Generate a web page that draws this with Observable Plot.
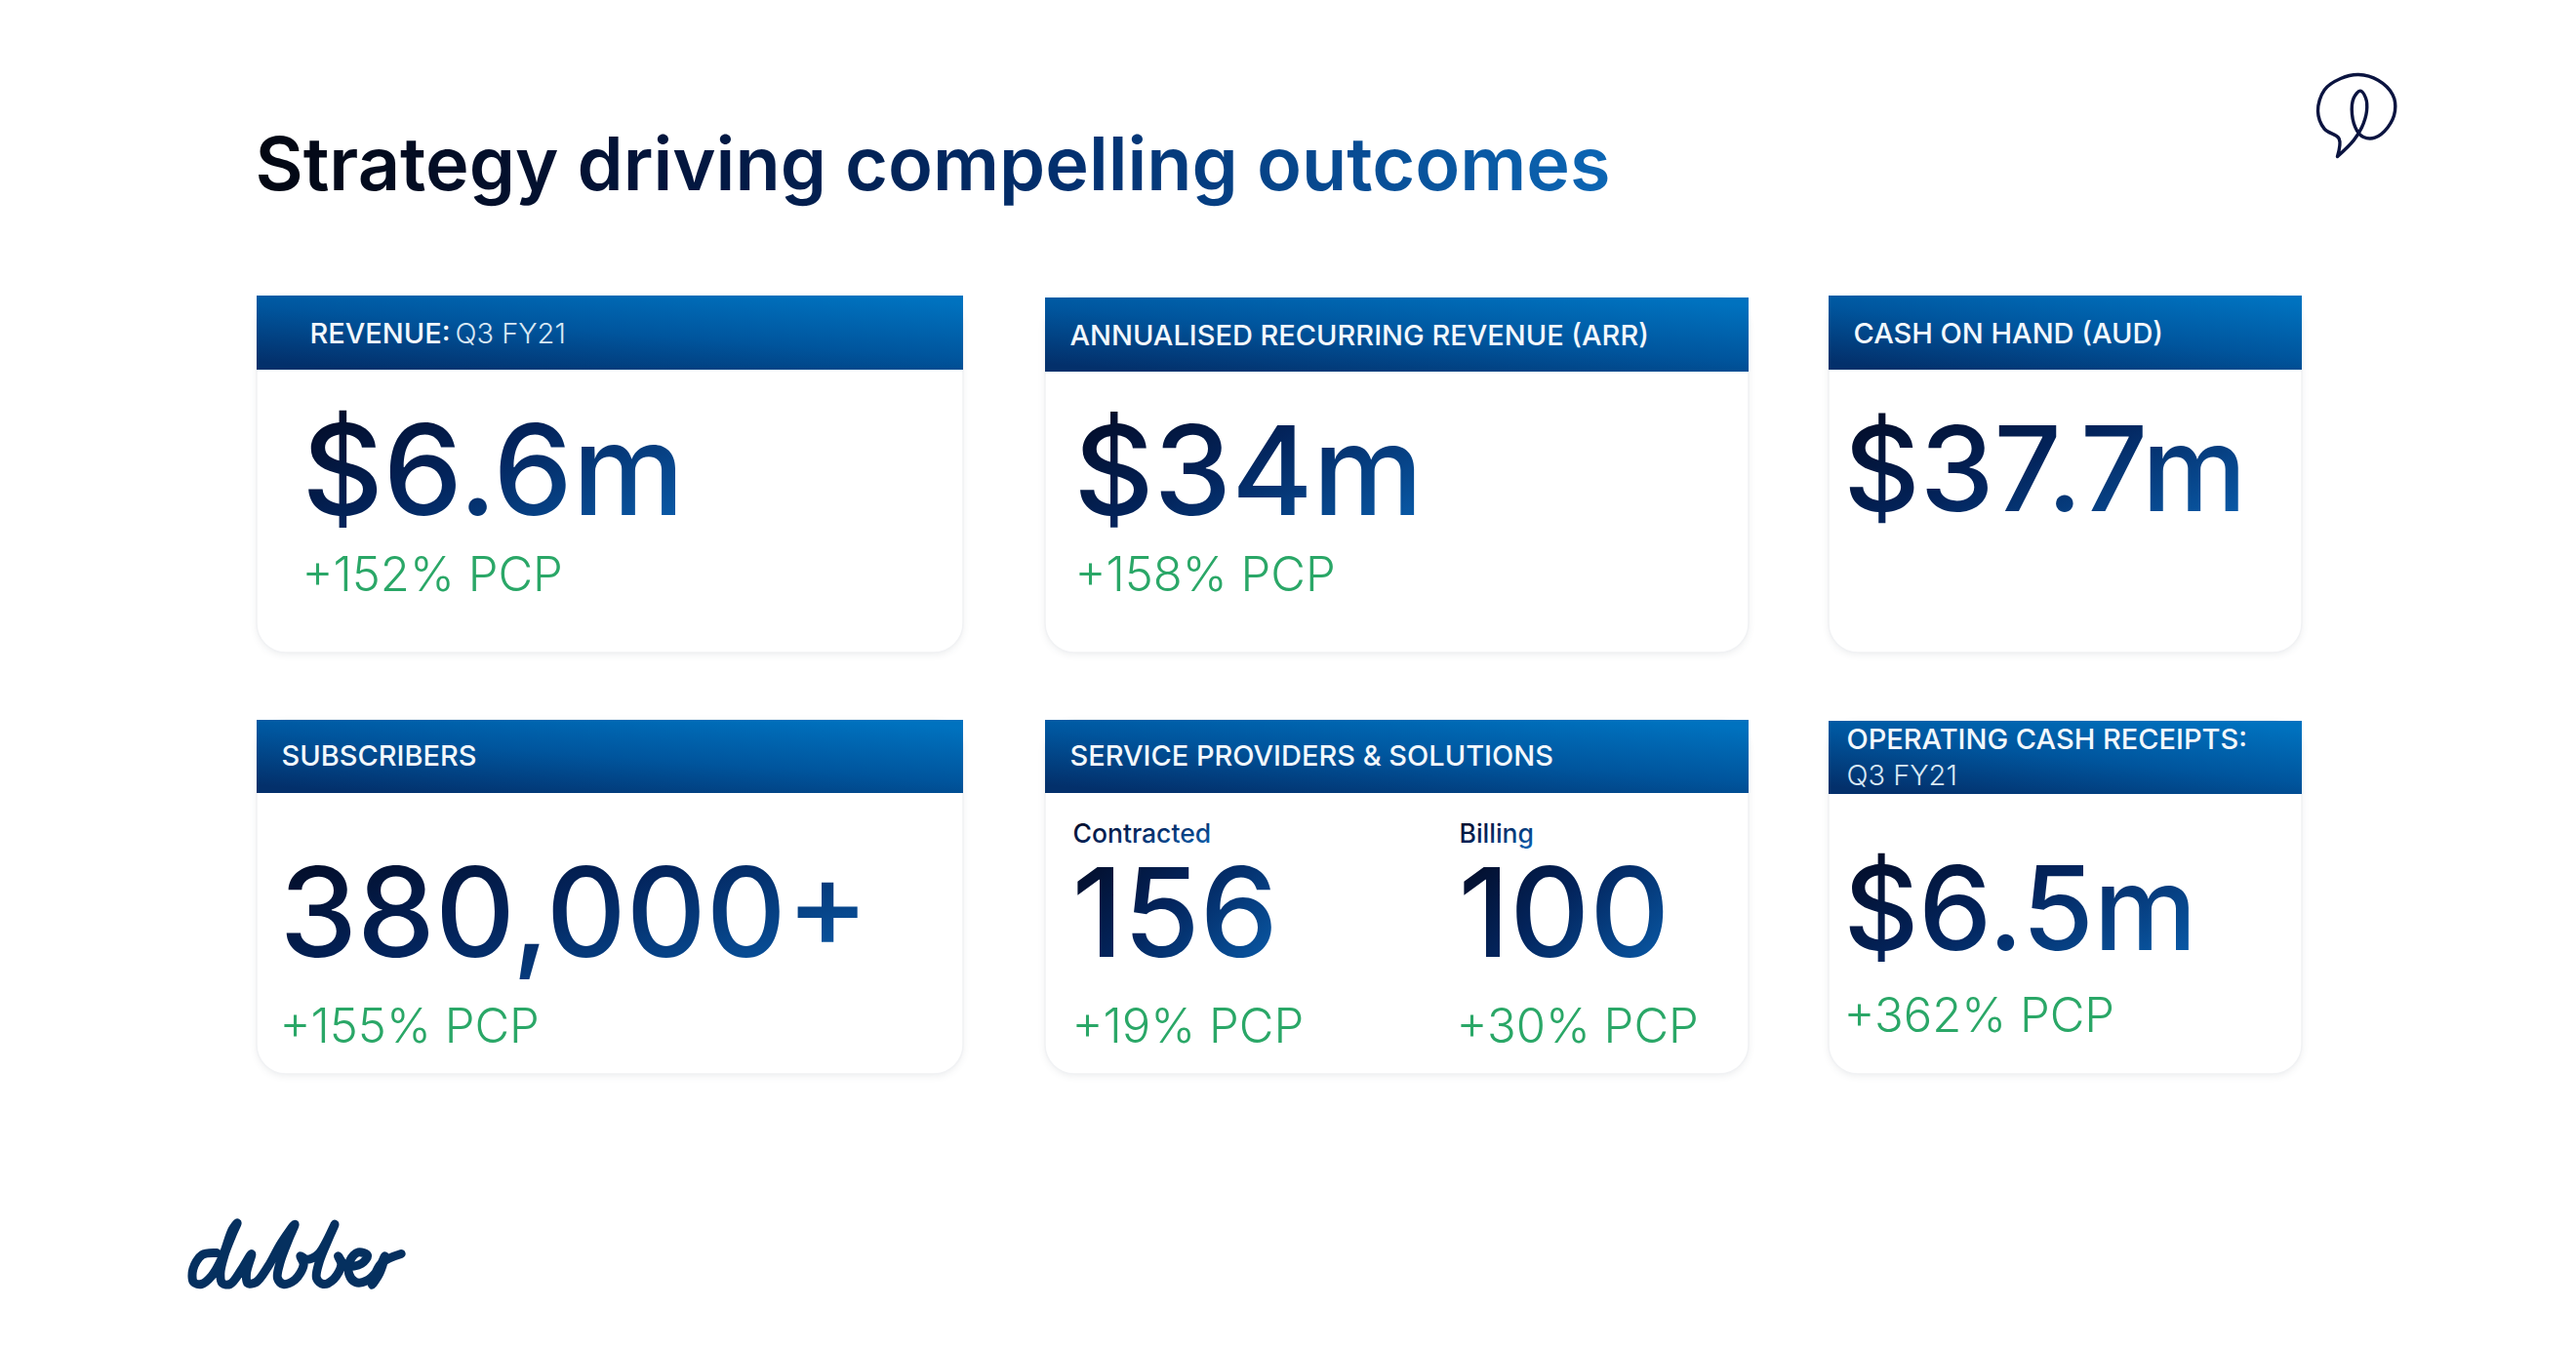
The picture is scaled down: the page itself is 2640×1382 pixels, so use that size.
<!DOCTYPE html>
<html><head><meta charset="utf-8">
<script src="https://cdn.jsdelivr.net/npm/d3@7"></script>
<script src="https://cdn.jsdelivr.net/npm/@observablehq/plot@0.6"></script>
<style>
html,body{margin:0;padding:0;background:#fff}
svg{display:block}
g[aria-label="title"] text{letter-spacing:-.7px}
g[aria-label="big"] text{letter-spacing:-5px}
g[aria-label="change"] text{letter-spacing:-.5px}
g[aria-label="sub"] text{letter-spacing:-.1px}
</style></head><body><div id="chart"></div>
<script>
// ---- chart content ----
const titleText = "Strategy driving compelling outcomes";
const headers = ["REVENUE:", "ANNUALISED RECURRING REVENUE (ARR)", "CASH ON HAND (AUD)", "SUBSCRIBERS", "SERVICE PROVIDERS & SOLUTIONS", "OPERATING CASH RECEIPTS:"];
const headerNotes = ["Q3 FY21", "Q3 FY21"];
const bigValues = ["$6.6m", "$34m", "$37.7m", "380,000+", "156", "100", "$6.5m"];
const changes = ["+152% PCP", "+158% PCP", "+155% PCP", "+19% PCP", "+30% PCP", "+362% PCP"];
const subLabels = ["Contracted", "Billing"];

// ---- layout (separate from the content) ----
const cardX1 = [263, 1071, 1874, 263, 1071, 1874];
const cardX2 = [987, 1792, 2359, 987, 1792, 2359];
const cardTop = [303, 305, 303, 738, 738, 739];
const headBot = [379, 381, 379, 813, 813, 814];
const cardBot = [669, 669, 669, 1101, 1101, 1101];
const headerAt = [[317, 351], [1096, 353], [1899, 351], [288, 784], [1096, 784], [1892, 767]];
const noteAt = [[466, 351], [1892, 804]];
const bigAt = [[309, 527], [1100, 527], [1889, 523], [286, 980], [1098, 980], [1494, 980], [1889, 973]];
const bigSize = [129, 127, 121, 127, 127, 127, 119];
const changeAt = [[309, 605], [1101, 605], [286, 1068], [1098, 1068], [1492, 1068], [1889, 1057]];
const subAt = [[1099, 863], [1495, 863]];

// bubble icon and wordmark, traced in crop space
const iconTrace = [[165,330],[170,275],[125,245],[105,190],[125,125],[175,90],[230,78],[290,95],[335,140],[342,190],[320,240],[280,272],[245,270],[225,250],[210,200],[215,150],[235,128],[252,150],[255,190],[240,240],[215,280],[165,330]];
const wordTrace = [
 [[155,162],[110,168],[82,212],[84,252],[108,258],[140,232],[170,180],[203,90],[218,70],[205,100],[178,170],[166,225],[172,255],[196,258],[232,212],[262,165],[246,225],[250,255],[276,252],[312,205],[354,130],[395,74],[378,115],[350,190],[342,240],[360,258],[395,245],[422,198],[412,172],[432,182],[468,165],[518,74],[498,120],[470,190],[462,240],[482,258],[515,242],[538,198],[528,172],[552,202],[600,195],[618,170],[590,160],[565,185],[562,228],[582,252],[615,248],[650,215],[672,172],[655,225],[632,260],[660,195],[722,165]]
];
const iconXY = iconTrace.map(([a,b]) => ({x: 2340 + a/3, y: 50 + b/3}));
const wordXY = wordTrace.flatMap((s,k) => s.map(([a,b]) => ({x: 170 + a/3, y: 1230 + b/3, k})));

const idx = a => a.map((_, i) => i);
const sans = "Inter";
const gradientDefs = () => {
  const svg = d3.create("svg:g");
  const defs = svg.append("defs");
  const add = (id, x1, y1, x2, y2, stops) => {
    const g = defs.append("linearGradient").attr("id", id).attr("x1", x1).attr("y1", y1).attr("x2", x2).attr("y2", y2);
    stops.forEach(([o, c]) => g.append("stop").attr("offset", o).attr("stop-color", c));
  };
  add("headGrad", .15, 1, .85, 0, [[0, "#03306b"], [.5, "#00559d"], [1, "#0072bf"]]);
  add("textGrad", 0, .1, 1, .9, [[0, "#030a22"], [.45, "#03245c"], [1, "#0a5fae"]]);
  add("titleGrad", 0, .5, 1, .5, [[0, "#030712"], [.3, "#03153c"], [.6, "#03306f"], [1, "#0c66b4"]]);
  return svg.node();
};

const textMark = (strs, at, opts) => Plot.text(idx(strs), {
  x: i => at[i][0], y: i => at[i][1], text: i => strs[i],
  textAnchor: "start", lineAnchor: "bottom", fontFamily: sans, ...opts
});

const chart = Plot.plot({
  width: 2640, height: 1382, margin: 0,
  x: {domain: [0, 2640], range: [0, 2640], axis: null},
  y: {domain: [0, 1382], range: [0, 1382], axis: null},
  marks: [
    gradientDefs,
    Plot.rect(idx(headers), {x1: i => cardX1[i], x2: i => cardX2[i], y1: i => cardTop[i], y2: i => cardBot[i], fill: "#fff", stroke: "#f1f2f4", strokeWidth: 1.5, rx: 30, imageFilter: "drop-shadow(0 2px 3px rgba(30,40,60,.07))"}),
    Plot.rect(idx(headers), {x1: i => cardX1[i], x2: i => cardX2[i], y1: i => cardTop[i], y2: i => headBot[i], fill: "url(#headGrad)"}),
    textMark(headers, headerAt, {fill: "#f3f8fc", fontSize: 29, fontWeight: 500, ariaLabel: "header"}),
    textMark(headerNotes, noteAt, {fill: "#d8e8f4", fontSize: 29, fontWeight: 300, ariaLabel: "note"}),
    textMark(bigValues, bigAt, {fill: "url(#textGrad)", fontSize: i => bigSize[i], fontWeight: 500, ariaLabel: "big"}),
    textMark(changes, changeAt, {fill: "#2aa767", fontSize: 49, fontWeight: 300, ariaLabel: "change"}),
    textMark(subLabels, subAt, {fill: "url(#textGrad)", fontSize: 26.5, fontWeight: 500, ariaLabel: "sub"}),
    Plot.text([titleText], {x: 261, y: 194, text: d => d, textAnchor: "start", lineAnchor: "bottom", fontFamily: sans, fontSize: 75.6, fontWeight: 600, fill: "url(#titleGrad)", ariaLabel: "title"}),
    Plot.line(iconXY, {x: "x", y: "y", curve: "catmull-rom", stroke: "#0b1440", strokeWidth: 3.4}),
    Plot.line(wordXY, {x: "x", y: "y", z: "k", curve: "catmull-rom", stroke: "#05305f", strokeWidth: 9})
  ]
});
document.getElementById("chart").append(chart);
</script></body></html>
